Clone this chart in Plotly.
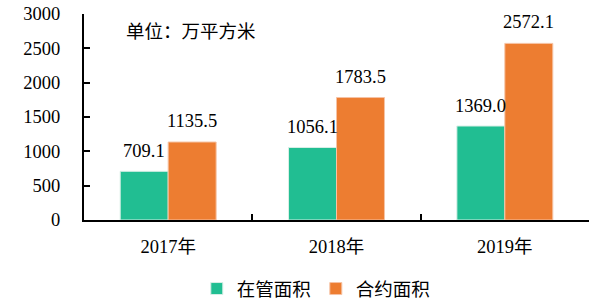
import plotly.graph_objects as go

categories = ["2017年", "2018年", "2019年"]
managed = [709.1, 1056.1, 1369.0]
contracted = [1135.5, 1783.5, 2572.1]
series_names = ["在管面积", "合约面积"]
y_ticks = [0, 500, 1000, 1500, 2000, 2500, 3000]

green = "#21BE92"
orange = "#ED7D31"
serif = "Liberation Serif, Times New Roman, Noto Sans CJK SC"
FS = 18.5

fig = go.Figure()
fig.add_trace(go.Bar(x=categories, y=managed, name=series_names[0],
                     marker=dict(color=green, line=dict(color="#d8efe6", width=1))))
fig.add_trace(go.Bar(x=categories, y=contracted, name=series_names[1],
                     marker=dict(color=orange, line=dict(color="#f6c3a5", width=1))))

for i, c in enumerate(categories):
    fig.add_annotation(x=c, y=managed[i], text=f"{managed[i]:.1f}", showarrow=False,
                       xshift=-24, yshift=20, font=dict(family=serif, size=FS, color="#000"))
    fig.add_annotation(x=c, y=contracted[i], text=f"{contracted[i]:.1f}", showarrow=False,
                       xshift=24, yshift=21, font=dict(family=serif, size=FS, color="#000"))

fig.add_annotation(xref="paper", yref="paper", x=0.08, y=0.922, xanchor="left",
                   yanchor="middle", text="单位：万平方米", showarrow=False,
                   font=dict(family="Noto Sans CJK SC", size=FS, color="#000"))

fig.update_layout(
    width=607, height=303,
    margin=dict(l=84, r=18, t=14, b=83, autoexpand=False),
    paper_bgcolor="white", plot_bgcolor="white",
    barmode="group", bargap=0.43, bargroupgap=0,
    font=dict(family=serif, size=FS, color="#000"),
    legend=dict(orientation="h", x=0.46, xanchor="center", y=-0.335, yanchor="middle",
                font=dict(family="Noto Sans CJK SC", size=FS), itemwidth=30,
                traceorder="normal"),
    showlegend=True,
)
fig.update_xaxes(showline=True, linecolor="#000", linewidth=2, ticks="inside",
                 tickson="boundaries", ticklen=6, tickwidth=2, tickcolor="#000",
                 ticklabelstandoff=9,
                 tickfont=dict(family=serif + ", Noto Sans CJK SC", size=FS))
fig.update_yaxes(range=[0, 3000], tickvals=y_ticks, showline=True, linecolor="#000",
                 linewidth=2, ticks="inside", ticklen=6, tickwidth=2, tickcolor="#000",
                 showgrid=False, zeroline=False, ticklabelstandoff=18,
                 tickfont=dict(family=serif, size=FS))

fig.write_html("out.html")
